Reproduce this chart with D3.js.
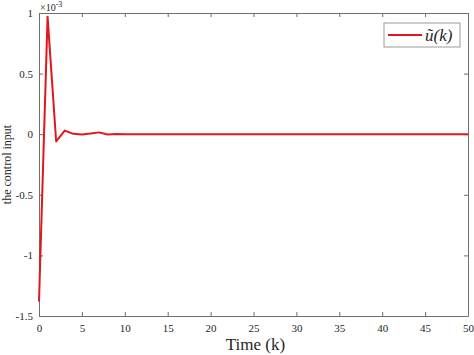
<!DOCTYPE html>
<html>
<head>
<meta charset="utf-8">
<script src="https://cdn.jsdelivr.net/npm/d3@7"></script>
<style>
  body { margin: 0; background: #fff; }
  text { font-family: "Liberation Serif", "DejaVu Serif", serif; fill: #262626; }
</style>
</head>
<body>
<div id="chart"></div>
<script>
// control input u~(k), values in units of 1e-3
var steps = d3.range(0, 51);
var uValues = [-1.38, 0.97, -0.06, 0.03, 0.003, -0.002, 0.005, 0.015, -0.002, 0.001,
  0, 0, 0, 0, 0, 0, 0, 0, 0, 0,
  0, 0, 0, 0, 0, 0, 0, 0, 0, 0,
  0, 0, 0, 0, 0, 0, 0, 0, 0, 0,
  0, 0, 0, 0, 0, 0, 0, 0, 0, 0, 0];
var xTicks = [0, 5, 10, 15, 20, 25, 30, 35, 40, 45, 50];
var yTicks = [-1.5, -1, -0.5, 0, 0.5, 1];
var legendLabel = "ũ(k)";

var width = 474, height = 355;
var margin = {left: 39, right: 6, top: 13, bottom: 39};

var svg = d3.select("#chart").append("svg")
    .attr("width", width).attr("height", height);

var x = d3.scaleLinear().domain([0, 50]).range([margin.left, width - margin.right]);
var y = d3.scaleLinear().domain([-1.5, 1]).range([height - margin.bottom, margin.top]);

var axisColor = "#6e6e6e";

// axes with inward ticks on all four sides
var xAxis = svg.append("g")
    .attr("transform", "translate(0," + (height - margin.bottom) + ")")
    .call(d3.axisBottom(x).tickValues(xTicks).tickSizeInner(-4).tickSizeOuter(0).tickPadding(8));
var xTop = svg.append("g")
    .attr("transform", "translate(0," + margin.top + ")")
    .call(d3.axisTop(x).tickValues(xTicks).tickSizeInner(-4).tickSizeOuter(0).tickFormat(""));
var yAxis = svg.append("g")
    .attr("transform", "translate(" + margin.left + ",0)")
    .call(d3.axisLeft(y).tickValues(yTicks).tickSizeInner(-4).tickSizeOuter(0).tickPadding(6)
      .tickFormat(function(d) { return String(d); }));
var yRight = svg.append("g")
    .attr("transform", "translate(" + (width - margin.right) + ",0)")
    .call(d3.axisRight(y).tickValues(yTicks).tickSizeInner(-4).tickSizeOuter(0).tickFormat(""));

[xAxis, xTop, yAxis, yRight].forEach(function(g) {
  g.select(".domain").attr("stroke", axisColor).attr("stroke-width", 1);
  g.selectAll(".tick line").attr("stroke", axisColor);
  g.selectAll(".tick text").attr("fill", "#333").style("font-size", "11px")
    .style("font-family", "'Liberation Serif', 'DejaVu Serif', serif");
});

// the signal
var line = d3.line()
    .x(function(d, i) { return x(steps[i]); })
    .y(function(d) { return y(d); });

svg.append("path")
    .datum(uValues)
    .attr("fill", "none")
    .attr("stroke", "#e3161c")
    .attr("stroke-width", 2)
    .attr("stroke-linejoin", "round")
    .attr("d", line);

// exponent note
var expo = svg.append("text")
    .attr("x", margin.left + 1).attr("y", 11)
    .style("font-size", "10px");
expo.append("tspan").text("×10");
expo.append("tspan").attr("dy", -4).style("font-size", "8px").text("-3");

// axis labels
svg.append("text")
    .attr("x", (margin.left + width - margin.right) / 2 + 2)
    .attr("y", height - 5)
    .attr("text-anchor", "middle")
    .style("font-size", "17px")
    .text("Time (k)");

svg.append("text")
    .attr("transform", "translate(11," + ((margin.top + height - margin.bottom) / 2) + ") rotate(-90)")
    .attr("text-anchor", "middle")
    .style("font-size", "12px")
    .text("the control input");

// legend
var lg = svg.append("g").attr("transform", "translate(384,23)");
lg.append("rect")
    .attr("width", 76).attr("height", 24)
    .attr("fill", "#fff").attr("stroke", "#9a9a9a").attr("stroke-width", 1);
lg.append("line")
    .attr("x1", 4).attr("x2", 38).attr("y1", 12).attr("y2", 12)
    .attr("stroke", "#e3161c").attr("stroke-width", 2);
lg.append("text")
    .attr("x", 41).attr("y", 18)
    .style("font-size", "17px").style("font-style", "italic")
    .text(legendLabel);
</script>
</body>
</html>
